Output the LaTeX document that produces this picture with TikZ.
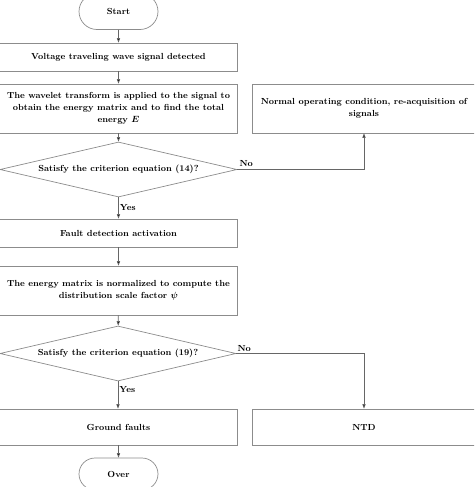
\documentclass[tikz,border=0pt]{standalone}
\usetikzlibrary{shapes.geometric,shapes.misc,arrows.meta,calc}
\begin{document}
\begin{tikzpicture}[x=1pt,y=-1pt,
  every node/.style={font=\fontsize{8.8}{11.7}\selectfont\bfseries\boldmath, text=black},
  procbox/.style={draw=black!45, line width=0.7pt, rectangle, inner sep=0pt, align=center},
  termbox/.style={draw=black!45, line width=0.7pt, rounded rectangle, inner sep=0pt, minimum width=79pt, minimum height=32pt},
  decbox/.style={draw=black!45, line width=0.7pt, diamond, aspect=4.3, inner sep=0pt, minimum width=237pt, minimum height=55pt},
  conn/.style={draw=black!60, line width=0.7pt, -{Triangle[length=4.5pt,width=3.2pt,fill=black]}},
  lbl/.style={inner sep=1pt}]
\useasboundingbox (0,0) rectangle (474,487);
\clip (0,0) rectangle (474,487);
\node[termbox, minimum height=36pt] (start) at (118.5,11.5) {\raisebox{-2.5pt}{Start}};
\node[procbox, minimum width=238pt, minimum height=28pt] (b1) at (118.5,57) {Voltage traveling wave signal detected};
\node[procbox, minimum width=238pt, minimum height=49pt] (b2) at (118.5,108.5) {The wavelet transform is applied to the signal to\\obtain the energy matrix and to find the total\\energy $E$};
\node[procbox, minimum width=223pt, minimum height=49pt] (norm) at (364,108.5) {Normal operating condition, re-acquisition of\\signals};
\node[decbox] (d1) at (118.5,169.5) {Satisfy the criterion equation (14)?};
\node[procbox, minimum width=238pt, minimum height=28pt] (b3) at (118.5,233) {Fault detection activation};
\node[procbox, minimum width=238pt, minimum height=49pt] (b4) at (118.5,290.5) {The energy matrix is normalized to compute the\\distribution scale factor $\psi$};
\node[decbox, minimum width=236pt] (d2) at (118,353.5) {Satisfy the criterion equation (19)?};
\node[procbox, minimum width=238pt, minimum height=36pt] (gf) at (118.5,427) {Ground faults};
\node[procbox, minimum width=223pt, minimum height=36pt] (ntd) at (364,427) {NTD};
\node[termbox] (over) at (118.5,474) {Over};
\draw[conn] (start) -- (b1);
\draw[conn] (b1) -- (b2);
\draw[conn] (b2) -- (d1);
\draw[conn] (d1.east) -| (norm.south);
\node[lbl, anchor=south west] (no1) at ($(d1.east)+(1,-2)$) {No};
\draw[conn] (d1) -- (b3) node[lbl, midway, anchor=west] (yes1) {Yes};
\draw[conn] (b3) -- (b4);
\draw[conn] (b4) -- (d2);
\draw[conn] (d2.east) -| (ntd.north);
\node[lbl, anchor=south west] (no2) at ($(d2.east)+(0,-1)$) {No};
\draw[conn] (d2.south) -- (d2.south |- gf.north) node[lbl, pos=0.3, anchor=west] (yes2) {Yes};
\draw[conn] (gf) -- (over);
\end{tikzpicture}
\end{document}
